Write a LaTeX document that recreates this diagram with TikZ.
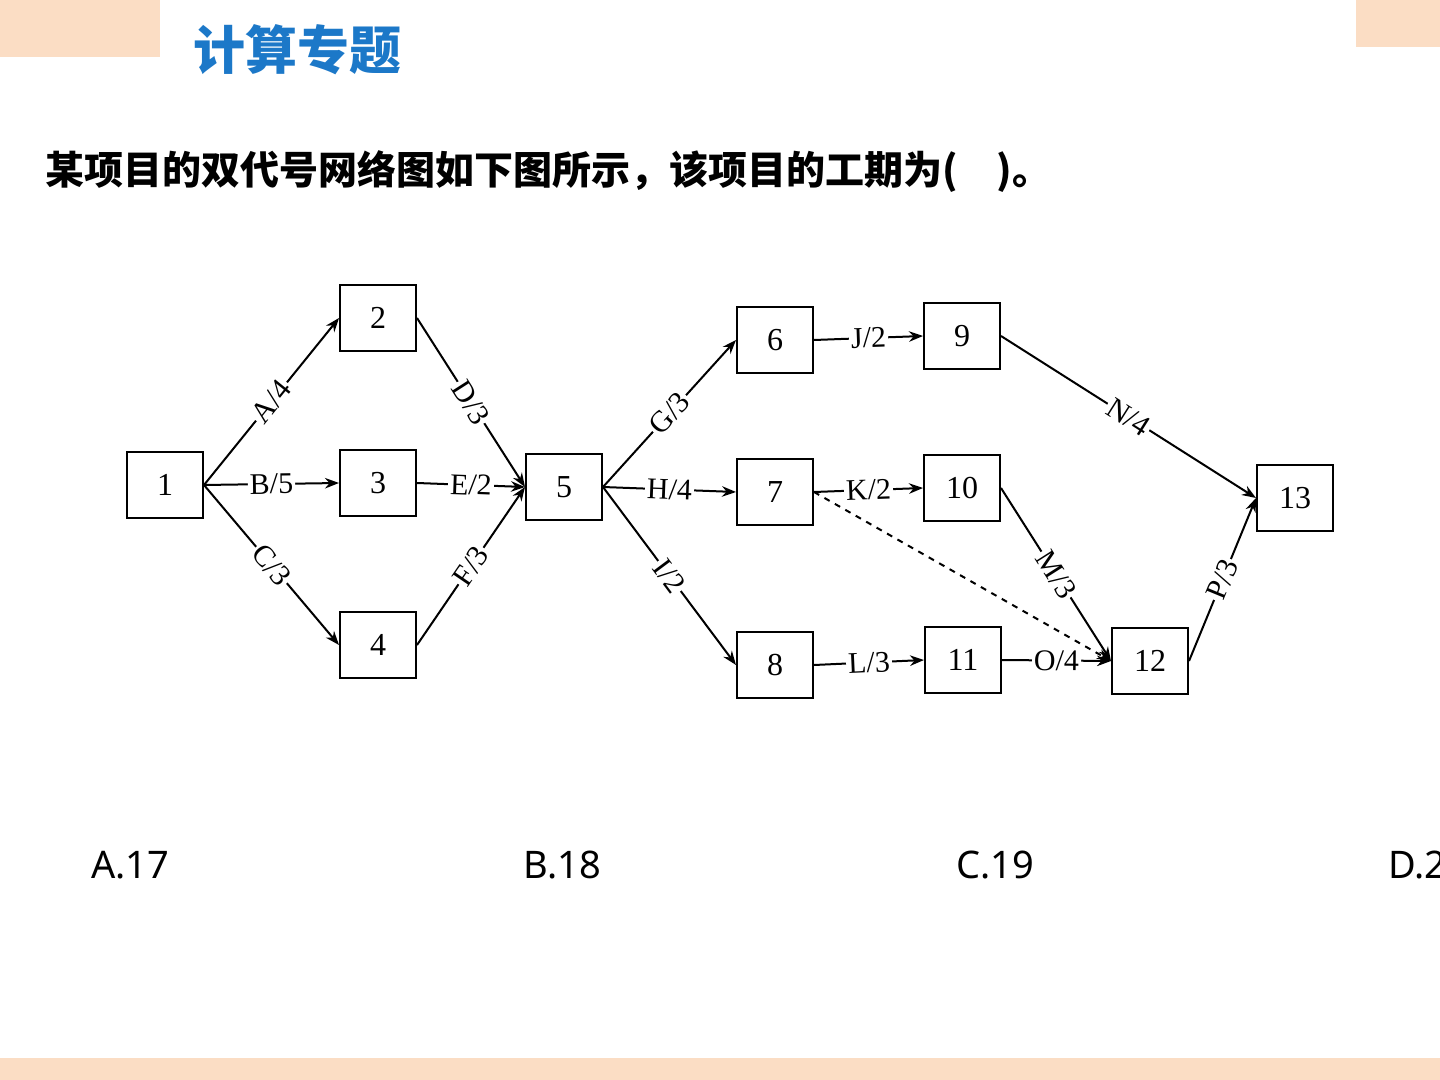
\documentclass[tikz,border=0pt]{standalone}
\usepackage{fontspec}
\setmainfont{Liberation Serif}
\newfontfamily\cjk{Noto Sans CJK SC}
\newfontfamily\optfont{Noto Sans}
\usetikzlibrary{arrows.meta}
\definecolor{peach}{RGB}{251,221,196}
\definecolor{titleblue}{RGB}{28,120,200}
\tikzstyle{evbox} = [draw=black, line width=1pt, rectangle, minimum width=38pt,
    minimum height=33pt, font=\fontsize{16}{16}\selectfont]
\tikzstyle{act} = [line width=1pt, -{Stealth[length=7pt]}]
\tikzstyle{actlab} = [fill=white, inner sep=1pt, sloped, midway,
    font=\fontsize{15}{15}\selectfont]
\begin{document}
\begin{tikzpicture}[x=0.5pt, y=-0.5pt]
\useasboundingbox (0,0) rectangle (1440,1080);
\clip (0,0) rectangle (1440,1080);
\fill[peach] (0,0) rectangle (160,57);
\fill[peach] (1356,0) rectangle (1440,47);
\fill[peach] (0,1058) rectangle (1440,1080);
\node[anchor=west, text=titleblue, font=\cjk\bfseries\fontsize{26}{26}\selectfont] (title) at (186,50) {计算专题};
\node[anchor=west, font=\cjk\bfseries\fontsize{19.5}{19.5}\selectfont] (question) at (38,172) {某项目的双代号网络图如下图所示，该项目的工期为(\quad )。};
% answer options
\node[anchor=west, font=\optfont\fontsize{19}{19}\selectfont] (optA) at (84,865) {A.17};
\node[anchor=west, font=\optfont\fontsize{19}{19}\selectfont] (optB) at (516,865) {B.18};
\node[anchor=west, font=\optfont\fontsize{19}{19}\selectfont] (optC) at (949,865) {C.19};
\node[anchor=west, font=\optfont\fontsize{19}{19}\selectfont] (optD) at (1381,865) {D.20};
% events
\node[evbox] (n1) at (165,485) {1};
\node[evbox] (n2) at (378,318) {2};
\node[evbox] (n3) at (378,483) {3};
\node[evbox] (n4) at (378,645) {4};
\node[evbox] (n5) at (564,487) {5};
\node[evbox] (n6) at (775,340) {6};
\node[evbox] (n7) at (775,492) {7};
\node[evbox] (n8) at (775,665) {8};
\node[evbox] (n9) at (962,336) {9};
\node[evbox] (n10) at (962,488) {10};
\node[evbox] (n11) at (963,660) {11};
\node[evbox] (n12) at (1150,661) {12};
\node[evbox] (n13) at (1295,498) {13};
% activities
\draw[act] (n1.east) -- (n2.west) node[actlab] {A/4};
\draw[act] (n1.east) -- (n3.west) node[actlab] {B/5};
\draw[act] (n1.east) -- (n4.west) node[actlab] {C/3};
\draw[act] (n2.east) -- (n5.west) node[actlab] {D/3};
\draw[act] (n3.east) -- (n5.west) node[actlab] {E/2};
\draw[act] (n4.east) -- (n5.west) node[actlab] {F/3};
\draw[act] (n5.east) -- (n6.west) node[actlab] {G/3};
\draw[act] (n5.east) -- (n7.west) node[actlab] {H/4};
\draw[act] (n5.east) -- (n8.west) node[actlab] {I/2};
\draw[act] (n6.east) -- (n9.west) node[actlab] {J/2};
\draw[act] (n7.east) -- (n10.west) node[actlab] {K/2};
\draw[act] (n8.east) -- (n11.west) node[actlab] {L/3};
\draw[act] (n9.east) -- (n13.west) node[actlab] {N/4};
\draw[act] (n10.east) -- (n12.west) node[actlab] {M/3};
\draw[act] (n11.east) -- (n12.west) node[actlab] {O/4};
\draw[act] (n12.east) -- (n13.west) node[actlab] {P/3};
\draw[act, dashed] (n7.east) -- (n12.west);
\end{tikzpicture}
\end{document}
